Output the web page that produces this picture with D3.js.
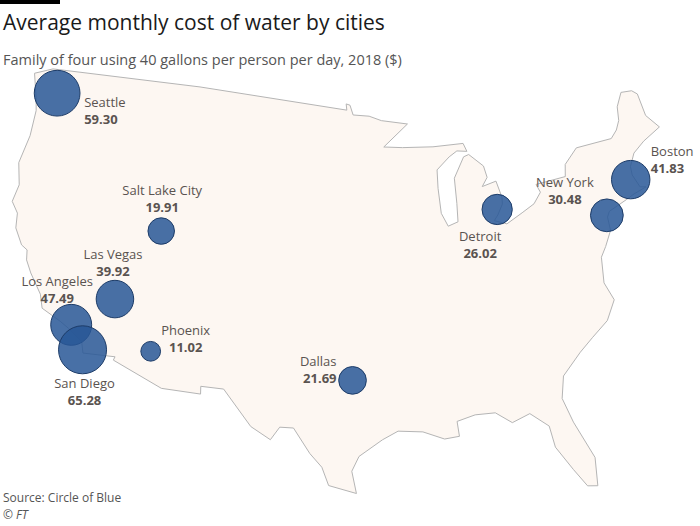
<!DOCTYPE html>
<html><head><meta charset="utf-8">
<script src="https://cdn.jsdelivr.net/npm/d3@7"></script>
<style>body{margin:0;background:#fff}svg{display:block}text{font-family:"Open Sans",sans-serif}</style>
</head><body><svg id="c" width="700" height="526"></svg>
<script>
const cities = ["Seattle","Salt Lake City","Las Vegas","Los Angeles","San Diego","Phoenix","Dallas","Detroit","New York","Boston"];
const lons = [-122.33,-111.89,-115.14,-118.24,-117.16,-112.07,-96.80,-83.05,-74.01,-71.06];
const lats = [47.61,40.76,36.17,34.05,32.72,33.45,32.78,42.33,40.71,42.36];
const values = [59.30,19.91,39.92,47.49,65.28,11.02,21.69,26.02,30.48,41.83];
const outline = [[-124.7,48.4],[-123.1,49.0],[-95.15,49.0],[-95.15,49.38],[-94.8,49.3],[-94.6,48.7],[-93.1,48.6],[-92.0,48.3],[-89.6,48.0],[-92.1,46.7],[-90.4,46.6],[-87.6,46.5],[-84.8,46.5],[-84.6,46.0],[-85.5,46.1],[-86.3,45.8],[-87.6,45.1],[-87.8,44.0],[-87.9,42.5],[-87.5,41.7],[-86.6,41.9],[-86.4,43.0],[-86.2,44.5],[-85.0,45.7],[-84.5,45.8],[-83.4,45.0],[-83.3,44.3],[-83.9,43.8],[-82.6,44.0],[-82.4,43.0],[-82.5,42.6],[-83.1,42.0],[-83.5,41.7],[-82.5,41.4],[-81.0,41.9],[-79.8,42.3],[-79.0,42.9],[-79.2,43.4],[-76.5,43.5],[-76.2,44.2],[-74.8,45.0],[-71.5,45.0],[-70.8,45.4],[-70.3,45.9],[-70.0,46.7],[-69.2,47.45],[-68.2,47.35],[-67.8,47.06],[-67.8,45.7],[-67.0,44.8],[-68.8,44.3],[-70.0,43.8],[-70.7,43.1],[-70.8,42.6],[-70.5,41.8],[-70.0,41.7],[-71.2,41.5],[-72.0,41.3],[-73.7,40.9],[-74.0,40.6],[-74.1,39.8],[-74.9,38.95],[-75.5,38.4],[-75.9,36.9],[-75.5,35.8],[-76.5,34.7],[-78.0,33.9],[-79.2,33.2],[-80.9,32.0],[-81.4,30.7],[-81.0,29.2],[-80.1,26.9],[-80.4,25.2],[-81.1,25.3],[-81.8,26.4],[-82.7,27.9],[-82.8,29.2],[-84.0,30.1],[-85.4,29.7],[-86.5,30.4],[-88.0,30.4],[-89.4,30.1],[-89.4,29.2],[-90.5,29.1],[-92.0,29.6],[-93.8,29.7],[-95.0,29.2],[-96.8,28.2],[-97.4,27.3],[-97.2,25.95],[-99.1,26.4],[-99.5,27.5],[-100.3,28.3],[-101.4,29.8],[-102.4,29.8],[-103.1,29.0],[-104.5,29.7],[-106.5,31.8],[-108.2,31.8],[-108.2,31.33],[-111.1,31.33],[-114.8,32.5],[-114.7,32.72],[-117.1,32.53],[-117.3,33.2],[-118.4,33.8],[-119.1,34.1],[-120.6,34.6],[-120.9,35.4],[-121.9,36.5],[-122.4,37.2],[-122.5,37.8],[-123.0,38.0],[-123.7,38.9],[-123.8,39.8],[-124.4,40.4],[-124.1,41.5],[-124.5,42.8],[-124.0,44.6],[-123.9,46.2],[-124.1,46.9],[-124.7,48.4]];

const svg = d3.select("#c");
svg.append("rect").attr("x",0).attr("y",0).attr("width",60).attr("height",4).attr("fill","#000");
svg.append("text").attr("x",3).attr("y",30).attr("font-size",21).attr("fill","#1a1a1a").text("Average monthly cost of water by cities");
svg.append("text").attr("x",3).attr("y",65).attr("font-size",14.5).attr("fill","#555").text("Family of four using 40 gallons per person per day, 2018 ($)");
svg.append("text").attr("x",3).attr("y",502).attr("font-size",12).attr("fill","#555").text("Source: Circle of Blue");
svg.append("text").attr("x",3).attr("y",519).attr("font-size",12).attr("fill","#555").attr("font-style","italic").text("© FT");

const base = d3.geoConicEqualArea().parallels([29.5,45.5]).rotate([96,0]).scale(1000).translate([0,0]);
const anchors = [[60,97],[169,238],[119,307],[52,314],[84,337],[148,350],[366,398],[500,206],[595,203],[632,184]];
const P = lons.map((l,i)=>base([l,lats[i]]));
function det(m){return m[0][0]*(m[1][1]*m[2][2]-m[1][2]*m[2][1])-m[0][1]*(m[1][0]*m[2][2]-m[1][2]*m[2][0])+m[0][2]*(m[1][0]*m[2][1]-m[1][1]*m[2][0]);}
function solve3(M,v){const D=det(M);return [0,1,2].map(k=>det(M.map((row,i)=>row.map((x,j)=>j===k?v[i]:x)))/D);}
const rows = P.map(p=>[p[0],p[1],1]);
const MtM = [0,1,2].map(a=>[0,1,2].map(b=>d3.sum(rows,r=>r[a]*r[b])));
const fit = k=>solve3(MtM,[0,1,2].map(a=>d3.sum(rows,(r,i)=>r[a]*anchors[i][k])));
const cx = fit(0), cy = fit(1);
const aff = p=>[cx[0]*p[0]+cx[1]*p[1]+cx[2], cy[0]*p[0]+cy[1]*p[1]+cy[2]];
const proj = ll=>aff(base(ll));
const tf = d3.geoTransform({point:function(x,y){const q=aff([x,y]);this.stream.point(q[0],q[1]);}});
const path = d3.geoPath({stream:s=>base.stream(tf.stream(s))});
svg.append("path").datum({type:"Polygon",coordinates:[outline]}).attr("d",path)
  .attr("fill","#fdf7f2").attr("stroke","#b5b5b5").attr("stroke-width",1);

const r = d3.scaleSqrt().domain([0,65.28]).range([0,24]);
const data = cities.map((c,i)=>({c,v:values[i],p:proj([lons[i],lats[i]])}));
svg.selectAll("circle.b").data(data).enter().append("circle")
  .attr("cx",d=>d.p[0]).attr("cy",d=>d.p[1]).attr("r",d=>r(d.v))
  .attr("fill","#285796").attr("fill-opacity",0.85).attr("stroke","#1d3c68").attr("stroke-width",1);

const place = {"Seattle":[27,14,"start"],"Salt Lake City":[1,-36,"middle"],"Las Vegas":[-2,-40,"middle"],
 "Los Angeles":[-14,-39,"middle"],"San Diego":[2,38,"middle"],"Phoenix":[35,-16,"middle"],
 "Dallas":[-16,-14,"end"],"Detroit":[-17,32,"middle"],"New York":[-42,-28,"middle"],"Boston":[20,-24,"start"]};
data.forEach(d=>{
  const [dx,dy,a]=place[d.c];
  const g=svg.append("g").attr("font-size",13).attr("fill","#5a5350").attr("text-anchor",a);
  g.append("text").attr("x",d.p[0]+dx).attr("y",d.p[1]+dy).text(d.c);
  g.append("text").attr("x",d.p[0]+dx).attr("y",d.p[1]+dy+17).attr("font-weight","bold").text(d.v.toFixed(2));
});
</script></body></html>
